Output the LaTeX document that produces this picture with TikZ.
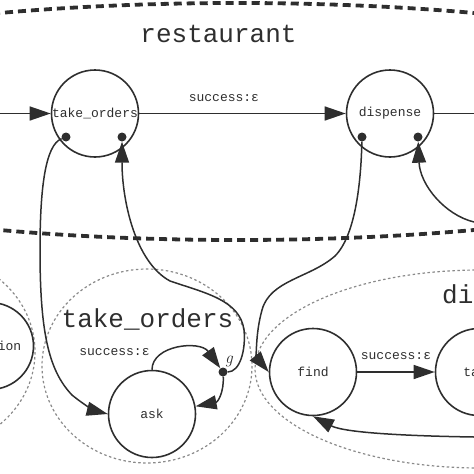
\documentclass[tikz,border=0pt]{standalone}
\usepackage{fontspec}
\setmonofont{Liberation Mono}
\usetikzlibrary{arrows.meta,shapes.geometric}
\definecolor{ink}{HTML}{2E2E2E}
\definecolor{dotgray}{HTML}{8A8A8A}
\begin{document}
\begin{tikzpicture}[x=1pt,y=-1pt,
  state/.style={circle, draw=ink, line width=1.6pt, minimum size=87pt, inner sep=0pt,
                font=\ttfamily\fontsize{13}{15}\selectfont, text=ink},
  pt/.style={circle, fill=ink, minimum size=9pt, inner sep=0pt},
  arr/.style={draw=ink, line width=1.5pt, -{Triangle[length=21pt,width=14pt]}},
  conn/.style={draw=ink, line width=1.5pt},
  lbl/.style={font=\ttfamily\fontsize{13}{15}\selectfont, text=ink, inner sep=0pt},
  big/.style={font=\ttfamily\fontsize{26}{30}\selectfont, text=ink, inner sep=0pt},
  outerbox/.style={draw=ink, line width=3.8pt, dash pattern=on 8pt off 5pt},
  cluster/.style={draw=dotgray, line width=1.2pt, dash pattern=on 2.5pt off 2.5pt},
  glbl/.style={font=\fontsize{17}{19}\selectfont\itshape, text=ink, inner sep=0pt}]
\useasboundingbox (0,0) rectangle (474,474);
\clip (0,0) rectangle (474,474);
% containers
\draw[outerbox] (237,121.5) ellipse [x radius=589, y radius=118.5];
\draw[cluster] (147,366) ellipse [x radius=105, y radius=97];
\draw[cluster] (-70,352) ellipse [x radius=105, y radius=97];
\draw[cluster] (480,369) ellipse [x radius=225, y radius=99];
% container labels
\node[big, anchor=base] (lrest) at (218.5,42) {restaurant};
\node[big, anchor=base] (ltake) at (147.5,327) {take\_orders};
\node[big, anchor=base west] (ldisp) at (442,303) {dispense};
% states
\node[state] (to) at (95,113.5) {take\_orders};
\node[state] (disp) at (390,113.5) {dispense};
\node[state] (loc) at (-10,346) {location};
\node[state] (ask) at (152,414) {ask};
\node[state] (find) at (313,372) {find};
\node[state] (take) at (479,372) {take};
% dots
\node[pt] (td1) at (66,137) {};
\node[pt] (td2) at (122,137) {};
\node[pt] (dd1) at (362,137) {};
\node[pt] (dd2) at (418,137) {};
\node[pt] (gd) at (223,372) {};
\node[glbl] (glab) at (229,361) {g};
% free ends
\coordinate (lin) at (0,113.5);
\coordinate (rout) at (474,113.5);
\coordinate (rin) at (474,222);
\coordinate (rin2) at (474,437);
% connectors
\draw[arr] (lin) -- (to);
\draw[arr] (to) -- node[lbl, pos=0.41, yshift=15.5pt] (l1) {success:ε} (disp);
\draw[conn] (disp) -- (rout);
\draw[arr] (td1) .. controls (45,145) and (40,190) .. (40,250)
  .. controls (40,330) and (48,370) .. (72,395)
  .. controls (84,405) and (96,411) .. (ask.west);
\draw[arr] (gd) .. controls (240,372) and (246,350) .. (244,330)
  .. controls (240,300) and (205,293) .. (170,281)
  .. controls (135,262) and (122,200) .. (td2);
\draw[arr] (dd1) .. controls (361,180) and (356,235) .. (335,256)
  .. controls (310,278) and (270,280) .. (262,310)
  .. controls (255,335) and (257,358) .. (find.west);
\draw[arr] (rin) .. controls (445,215) and (420,185) .. (dd2);
\draw[arr] (ask.north) .. controls (152,345) and (200,340) .. (gd);
\node[lbl] (l2) at (114.5,352) {success:ε};
\draw[arr] (gd) .. controls (224,392) and (218,402) .. (ask.10);
\draw[arr] (find) -- node[lbl, pos=0.5, yshift=15.5pt] (l3) {success:ε} (take);
\draw[arr] (rin2) .. controls (410,436) and (345,433) .. (find.south);
\end{tikzpicture}
\end{document}
